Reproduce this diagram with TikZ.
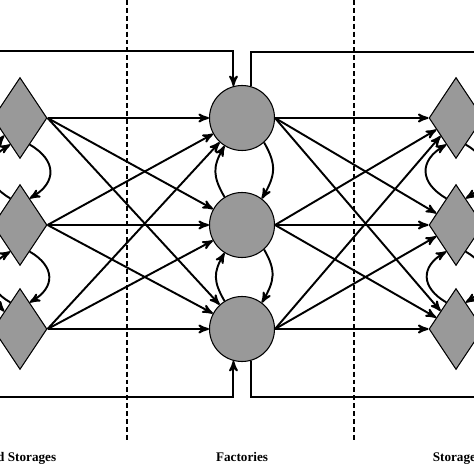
\documentclass[tikz,border=0pt]{standalone}
\usepackage{fontspec}
\setmainfont{Liberation Serif}
\usepackage{tikz}
\usetikzlibrary{arrows,shapes.geometric}

\begin{document}
\begin{tikzpicture}[->,>=stealth',line width=1.1pt,
                    factory node/.style={circle,draw,fill=black!40,line width=0.6pt,inner sep=0pt,minimum size=1.3cm},
                    storage node/.style={diamond,draw,fill=black!40,line width=0.6pt,inner sep=0pt,minimum width=1.08cm,minimum height=1.62cm},
                    border line/.style={-,line width=0.8pt,dash pattern=on 2.8pt off 1.7pt},
                    stage label/.style={font=\bfseries\fontsize{7.5}{9}\selectfont}]

\useasboundingbox (0cm,0cm) rectangle (9.48cm,-9.48cm);
\clip (0cm,0cm) rectangle (9.48cm,-9.48cm);

% stage borders
\draw[border line] (2.54cm,0cm) -- (2.54cm,-8.8cm);
\draw[border line] (7.08cm,0cm) -- (7.08cm,-8.8cm);

\node[storage node] (L1) at (0.40cm,-2.36cm) {};
\node[storage node] (L2) at (0.40cm,-4.50cm) {};
\node[storage node] (L3) at (0.40cm,-6.58cm) {};

\node[factory node] (F1) at (4.84cm,-2.36cm) {};
\node[factory node] (F2) at (4.84cm,-4.50cm) {};
\node[factory node] (F3) at (4.84cm,-6.58cm) {};

\node[storage node] (R1) at (9.12cm,-2.36cm) {};
\node[storage node] (R2) at (9.12cm,-4.50cm) {};
\node[storage node] (R3) at (9.12cm,-6.58cm) {};

% previous stage, outside the picture
\coordinate (S1) at (-3.40cm,-2.36cm);
\coordinate (S2) at (-3.40cm,-4.50cm);
\coordinate (S3) at (-3.40cm,-6.58cm);
\coordinate (topin) at (-0.20cm,-1.02cm);
\coordinate (topout) at (9.70cm,-1.04cm);
\coordinate (botin) at (-0.20cm,-7.94cm);
\coordinate (botout) at (9.70cm,-7.94cm);

\path
    (S1) edge (L1) (S1) edge (L2) (S1) edge (L3)
    (S2) edge (L1) (S2) edge (L2) (S2) edge (L3)
    (S3) edge (L1) (S3) edge (L2) (S3) edge (L3)
    ;

\path
    (L1.east) edge (F1) (L1.east) edge (F2) (L1.east) edge (F3)
    (L2.east) edge (F1) (L2.east) edge (F2) (L2.east) edge (F3)
    (L3.east) edge (F1) (L3.east) edge (F2) (L3.east) edge (F3)
    (F1.east) edge (R1) (F1.east) edge (R2) (F1.east) edge (R3)
    (F2.east) edge (R1) (F2.east) edge (R2) (F2.east) edge (R3)
    (F3.east) edge (R1) (F3.east) edge (R2) (F3.east) edge (R3)
    ;

% transfers inside a stage
\path
    (L1.-70) edge [out=-30,in=30,looseness=1.5] (L2.70)
    (L2.-70) edge [out=-30,in=30,looseness=1.5] (L3.70)
    (L2.110) edge [out=150,in=210,looseness=1.5] (L1.250)
    (L3.110) edge [out=150,in=210,looseness=1.5] (L2.250)
    (F1.-48) edge [out=-60,in=60,looseness=1.2] (F2.53)
    (F2.-48) edge [out=-60,in=60,looseness=1.2] (F3.53)
    (F2.122) edge [out=120,in=240,looseness=1.2] (F1.238)
    (F3.122) edge [out=120,in=240,looseness=1.2] (F2.238)
    (R1.-70) edge [out=-30,in=30,looseness=1.5] (R2.70)
    (R2.-70) edge [out=-30,in=30,looseness=1.5] (R3.70)
    (R2.110) edge [out=150,in=210,looseness=1.5] (R1.250)
    (R3.110) edge [out=150,in=210,looseness=1.5] (R2.250)
    ;

\draw (topin) -| (F1.105);
\draw[-] (F1.75) |- (topout);
\draw (botin) -| (F3.255);
\draw[-] (F3.285) |- (botout);

\node[stage label,anchor=base east] (lab1) at (1.26cm,-9.22cm) {d Storages};
\node[stage label,anchor=base] (lab2) at (4.84cm,-9.22cm) {Factories};
\node[stage label,anchor=base west] (lab3) at (8.52cm,-9.22cm) {Storage};
\end{tikzpicture}
\end{document}
